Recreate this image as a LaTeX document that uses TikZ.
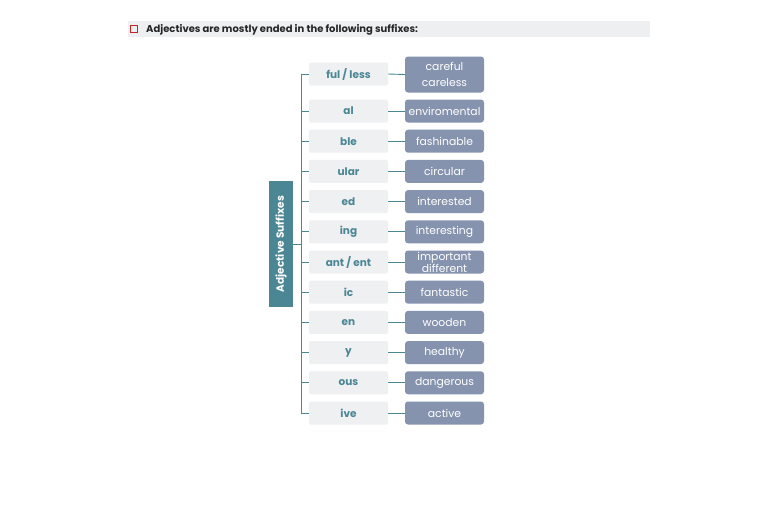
\documentclass[tikz,border=0pt]{standalone}
\usepackage{fontspec}
\setmainfont{Poppins}
\usetikzlibrary{calc}
\definecolor{teal1}{RGB}{74,134,148}
\definecolor{slate}{RGB}{134,147,174}
\definecolor{lgray}{RGB}{238,240,242}
\definecolor{hbar}{RGB}{238,239,241}
\definecolor{redbox}{RGB}{190,40,40}
\tikzset{
  sfx/.style={fill=lgray, rounded corners=2pt, minimum width=79pt, minimum height=23pt, inner sep=0pt, text=teal1, font=\fontsize{10.5}{11}\selectfont\bfseries},
  ex/.style={fill=slate, rounded corners=3pt, minimum width=79pt, minimum height=23pt, inner sep=0pt, text=white, font=\fontsize{10.8}{11}\selectfont, align=center},
  conn/.style={draw=teal1, line width=0.9pt},
}
\begin{document}
\begin{tikzpicture}[x=1pt,y=-1pt]
\useasboundingbox (0,0) rectangle (768,512);
\fill[white] (0,0) rectangle (768,512);
% header
\node[fill=hbar, minimum width=522pt, minimum height=16pt, inner sep=0pt, anchor=west] (hdr) at (128,29) {};
\node[draw=redbox, line width=1pt, minimum width=6.5pt, minimum height=6.5pt, inner sep=0pt] (icon) at (134,29) {};
\node[anchor=west, inner sep=0pt, font=\fontsize{10}{11}\selectfont\bfseries, text=black!85] (htxt) at (146,29.5) {Adjectives are mostly ended in the following suffixes:};
% root
\node[fill=teal1, minimum width=24pt, minimum height=126pt, inner sep=0pt] (root) at (281,244) {};
\node[rotate=90, text=white, font=\fontsize{10.5}{11}\selectfont\bfseries] (roottxt) at (root.center) {Adjective Suffixes};
% rows
\foreach \i/\y/\s/\e in {
  1/111/al/enviromental,
  2/141.2/ble/fashinable,
  3/171.4/ular/circular,
  4/201.6/ed/interested,
  5/231.8/ing/interesting,
  7/292.2/ic/fantastic,
  8/322.4/en/wooden,
  9/352.6/y/healthy,
  10/382.8/ous/dangerous,
  11/413/ive/active}{
  \node[sfx] (s\i) at (348.5,\y) {\s};
  \node[ex] (r\i) at (444.5,\y) {\e};
}
\node[sfx] (s0) at (348.5,74) {ful / less};
\node[ex, minimum height=36pt] (r0) at (444.5,74.5) {careful\\[5pt]careless};
\node[sfx] (s6) at (348.5,262) {ant / ent};
\node[ex] (r6) at (444.5,262) {\fontsize{10.8}{9.5}\selectfont important\\different};
\foreach \i in {0,...,11}{
  \draw[conn] (root.east) -- ($(root.east)+(8,0)$) |- (s\i.west);
  \draw[conn] (s\i.east) -- (r\i.west);
}
\end{tikzpicture}
\end{document}
